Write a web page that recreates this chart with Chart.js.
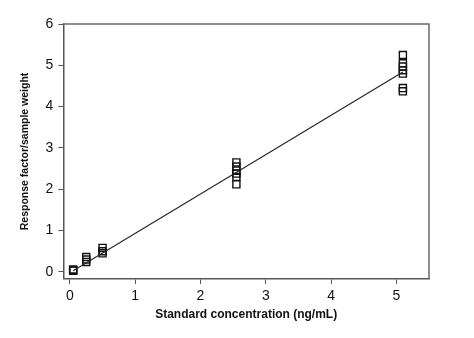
<!DOCTYPE html>
<html>
<head>
<meta charset="utf-8">
<script src="https://cdn.jsdelivr.net/npm/chart.js@4"></script>
<style>
  html, body { margin: 0; padding: 0; background: #fff; }
  #wrap { width: 474px; height: 338px; }
</style>
</head>
<body>
<div id="wrap"><canvas id="calib" width="474" height="338"></canvas></div>
<script>
// standard concentrations (ng/mL) and measured response factor / sample weight
var concX = [0.05, 0.05, 0.05, 0.25, 0.25, 0.25, 0.5, 0.5, 0.5,
             2.55, 2.55, 2.55, 2.55, 2.55, 2.55,
             5.1, 5.1, 5.1, 5.1, 5.1, 5.1, 5.1];
var responseY = [0.06, 0.04, 0.03, 0.36, 0.3, 0.24, 0.58, 0.5, 0.45,
                 2.65, 2.55, 2.45, 2.38, 2.3, 2.12,
                 5.25, 5.05, 4.97, 4.88, 4.8, 4.45, 4.37];
// fitted calibration line, endpoints
var fitX = [0.05, 5.1];
var fitY = [0.03, 4.84];
var xTicks = [0, 1, 2, 3, 4, 5];
var yTicks = [0, 1, 2, 3, 4, 5, 6];

var FONT = "'Liberation Sans', Arial, sans-serif";

function pairs(xs, ys) {
  var out = [];
  for (var i = 0; i < xs.length; i++) {
    out.push({ x: xs[i], y: ys[i] });
  }
  return out;
}

function fixedTicks(list) {
  return function (scale) {
    scale.ticks = list.map(function (v) { return { value: v }; });
  };
}

// closes the plot box on the top and right sides
var frameBox = {
  id: "frameBox",
  afterDraw: function (chart) {
    var a = chart.chartArea;
    var ctx = chart.ctx;
    ctx.save();
    ctx.strokeStyle = "#6a6a6a";
    ctx.lineWidth = 1.5;
    ctx.beginPath();
    ctx.moveTo(a.left, a.top);
    ctx.lineTo(a.right, a.top);
    ctx.lineTo(a.right, a.bottom);
    ctx.stroke();
    ctx.restore();
  }
};

var ctx = document.getElementById("calib").getContext("2d");
new Chart(ctx, {
  type: "scatter",
  data: {
    datasets: [
      {
        label: "fit",
        type: "line",
        data: pairs(fitX, fitY),
        borderColor: "#222",
        borderWidth: 1.1,
        pointRadius: 0,
        fill: false,
        tension: 0
      },
      {
        label: "samples",
        data: pairs(concX, responseY),
        pointStyle: "rect",
        pointRadius: 5,
        pointBorderWidth: 1.4,
        pointBorderColor: "#111",
        pointBackgroundColor: "rgba(255,255,255,0)"
      }
    ]
  },
  options: {
    responsive: false,
    animation: false,
    layout: { padding: { top: 24, right: 45, bottom: 17, left: 19 } },
    plugins: { legend: { display: false }, tooltip: { enabled: false } },
    scales: {
      x: {
        type: "linear",
        min: -0.1,
        max: 5.5,
        afterBuildTicks: fixedTicks(xTicks),
        grid: { drawOnChartArea: false, drawTicks: true, tickLength: 5, color: "#555", lineWidth: 1 },
        border: { display: true, color: "#555", width: 1.5 },
        ticks: { color: "#111", font: { family: FONT, size: 14, lineHeight: 0.79 }, padding: 7, maxRotation: 0 },
        title: {
          display: true,
          text: "Standard concentration (ng/mL)",
          color: "#111",
          font: { family: FONT, size: 12, weight: "bold", lineHeight: 1 },
          padding: { top: 0, bottom: 0 }
        }
      },
      y: {
        type: "linear",
        min: -0.17,
        max: 6,
        afterBuildTicks: fixedTicks(yTicks),
        grid: { drawOnChartArea: false, drawTicks: true, tickLength: 5, color: "#555", lineWidth: 1 },
        border: { display: true, color: "#555", width: 1.5 },
        ticks: { color: "#111", font: { family: FONT, size: 14 }, padding: 5 },
        title: {
          display: true,
          text: "Response factor/sample weight",
          color: "#111",
          font: { family: FONT, size: 10.5, weight: "bold" },
          padding: { top: 0, bottom: 9 }
        }
      }
    }
  },
  plugins: [frameBox]
});
</script>
</body>
</html>
